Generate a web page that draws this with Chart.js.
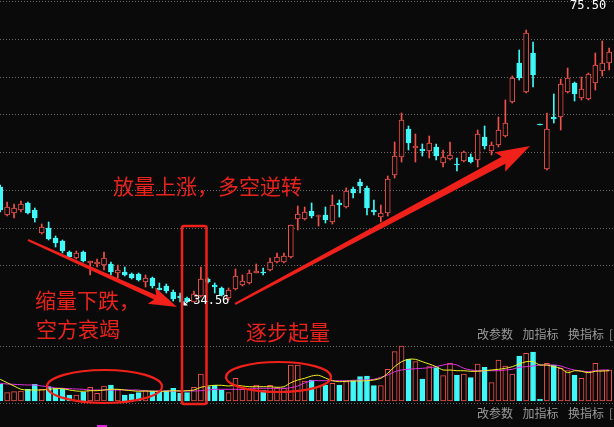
<!DOCTYPE html>
<html>
<head>
<meta charset="utf-8">
<script src="https://cdn.jsdelivr.net/npm/chart.js@4.4.1/dist/chart.umd.min.js"></script>
<style>
  html, body { margin: 0; padding: 0; background: #0a0a0a; }
  #wrap { position: relative; width: 614px; height: 427px; }
</style>
</head>
<body>
<div id="wrap"><canvas id="kline"></canvas></div>
<script>
// daily bars, oldest first
const opens = [51.96,47.76,48.06,48.51,49.56,48.51,45.06,45.81,44.31,43.86,
  42.21,41.31,42.21,40.56,40.41,40.26,40.41,39.06,39.21,38.91,
  38.91,37.71,38.31,36.81,37.11,36.21,35.61,35.31,34.71,35.61,
  38.16,37.26,36.81,35.31,36.66,37.26,37.56,39.06,39.21,39.51,
  40.71,40.71,41.46,47.16,47.16,48.36,47.54,47.76,46.71,49.56,
  48.96,51.66,52.71,51.81,48.51,47.46,48.06,53.76,56.46,60.66,
  57.81,57.66,57.36,57.96,55.56,56.16,55.41,55.86,56.46,56.01,
  59.46,57.36,58.26,59.61,64.71,70.56,66.21,72.06,61.41,54.66,
  62.46,62.46,66.21,67.56,65.31,65.16,67.56,69.36,70.56];
const closes = [48.51,48.96,48.81,49.41,48.06,47.31,45.96,44.16,43.56,42.36,
  41.46,42.06,40.86,40.86,40.71,41.31,39.21,39.51,38.76,38.31,
  38.01,38.31,37.11,36.51,36.36,35.16,35.31,34.71,35.91,38.16,
  37.71,36.96,35.76,36.51,38.61,37.86,39.06,39.36,39.06,40.71,
  41.46,41.61,46.26,47.91,48.21,47.61,47.69,47.01,49.26,49.26,
  51.36,51.06,52.11,48.81,48.21,48.06,53.16,56.61,62.01,58.56,
  58.11,57.36,58.56,56.61,56.46,56.76,55.26,57.21,55.71,59.91,
  58.11,58.26,60.51,61.56,68.31,68.31,75.06,68.76,61.26,60.66,
  62.16,67.41,68.31,65.91,66.66,68.91,70.26,70.56,72.21];
const highs = [52.26,49.71,49.41,49.86,49.71,48.81,46.41,46.71,44.61,44.01,
  42.36,42.36,42.36,40.86,41.16,42.21,40.71,40.26,39.96,39.06,
  39.06,38.76,38.46,37.56,37.41,36.51,36.06,35.46,36.36,39.96,
  38.31,37.56,36.96,36.81,39.66,38.76,39.51,40.41,39.81,41.31,
  42.06,42.06,46.26,49.11,48.96,49.56,47.76,48.96,50.76,50.01,
  51.81,51.96,53.16,52.11,50.01,49.26,53.61,58.71,63.06,61.11,
  59.91,58.41,59.61,58.41,57.51,58.71,56.31,57.36,56.91,60.51,
  61.11,58.71,62.46,65.01,68.61,72.51,75.50,73.71,61.41,63.06,
  65.91,68.16,69.81,67.71,68.46,69.06,72.06,73.86,72.81];
const lows = [48.21,47.61,47.31,48.21,47.91,46.71,44.91,44.01,42.96,42.06,
  41.31,41.16,40.71,38.76,39.96,39.51,38.76,38.31,38.61,38.16,
  37.86,36.96,36.81,36.51,36.06,34.86,34.71,34.56,34.71,35.46,
  37.56,36.06,35.61,35.01,36.51,37.11,37.41,39.06,38.76,39.36,
  40.56,40.56,41.31,45.51,47.01,47.31,46.11,46.56,46.41,47.46,
  48.81,50.31,51.06,47.76,47.76,46.71,47.61,53.31,55.71,57.51,
  55.71,56.61,56.31,56.01,54.96,56.01,54.36,55.71,55.56,54.96,
  57.66,56.76,57.96,59.46,64.56,68.01,66.06,66.96,61.26,54.51,
  61.56,60.51,66.06,64.86,65.01,65.01,66.51,68.61,69.51];

// volume (万手) and its colour (1 = up / red hollow, 0 = down / cyan)
const volumes = [16.7,8.3,9.3,10,11.7,16.7,11.7,14.3,12.7,11.7,
  6,6,8.7,13.7,7.7,15,16,11.7,6,7,
  8.3,10.3,10,9.3,10.3,12.7,7.7,8.3,13.7,27,
  14.3,15.7,11,8.3,22.7,12,12,16,11,15.7,
  12.7,12.7,36,36,20,21,14.3,16,17.7,16,
  19.3,20,24.3,25,15.3,15.3,31.7,49.3,55,41.7,
  39.3,22,34.3,33.3,25.3,37.7,26,27,23.3,37,
  33.7,18.3,41,35,27,45,47.7,49,2,37.7,
  36,32.7,30.3,26,22.7,29.3,37.7,30.3,31];
const volUp = [0,1,1,1,0,0,1,0,0,0, 0,1,0,1,1,1,0,1,0,0,
  0,1,0,0,0,0,0,0,1,1, 0,0,0,1,1,1,1,1,0,1,
  1,1,1,1,1,0,1,0,1,0, 1,0,0,0,0,1,1,1,1,0,
  1,0,1,0,1,1,0,1,0,1, 0,1,1,1,1,0,1,0,0,1,
  0,1,1,0,1,1,1,1,1];
const volMa5 = [21.7,18.3,15.0,11.7,11.0,11.0,11.0,11.7,12.3,12.3,
  11.0,10.0,9.7,10.3,10.3,11.0,11.7,11.7,11.0,10.3,
  9.7,10.0,9.7,9.7,9.7,10.3,10.0,10.3,11.0,13.7,
  15.0,15.7,15.7,15.0,15.7,15.0,14.3,14.3,14.3,14.3,
  13.7,14.3,18.3,21.0,22.7,25.0,25.7,23.0,20.3,19.3,
  19.7,20.0,20.0,20.3,21.0,22.7,27.7,34.3,39.3,41.7,
  41.7,39.3,37.0,34.3,31.0,31.0,30.3,30.3,29.7,29.7,
  30.3,31.0,31.7,32.7,34.3,37.0,39.3,39.3,36.0,36.0,
  34.3,32.7,28.3,30.3,29.7,28.3,29.7,30.0,30.3];
const volMa10 = [17.7,17.0,16.7,16.3,16.0,16.0,15.0,14.3,13.0,12.7,
  12.3,12.0,11.7,11.0,11.0,11.0,11.0,11.0,11.0,11.0,
  11.0,10.0,10.0,10.0,10.0,10.0,10.0,10.0,10.0,10.3,
  11.0,11.7,11.7,11.7,11.7,11.7,12.7,12.7,12.7,12.7,
  12.7,12.7,13.3,15.0,18.0,20.3,20.3,20.3,20.3,20.3,
  20.3,20.7,21.0,21.0,21.7,23.7,26.0,29.3,31.0,31.7,
  32.3,32.7,33.3,34.3,36.0,37.0,36.0,32.7,31.0,30.3,
  30.3,30.3,30.3,31.0,31.7,33.7,34.3,35.0,36.0,36.0,
  36.0,35.0,32.7,31.0,30.0,29.3,30.3,31.0,31.0];

const priceGrid = [79.86, 74.20, 68.53, 62.87, 57.21, 51.55, 45.88, 40.22];
const volumeGrid = [55, -2];
const lowLabel = '34.56';
const highLabel = '75.50';
const menuLabels = ['改参数', '加指标', '换指标'];

const RED = '#f0504a';
const CYAN = '#40f8f8';
const BG = '#0a0a0a';
const MARK = '#f0201a';

const idx = opens.map((_, i) => i);
const isUp = i => closes[i] >= opens[i];

function arrow(ctx, x0, y0, x1, y1, w0, w1, headLen, headW) {
  const len = Math.hypot(x1 - x0, y1 - y0);
  const ux = (x1 - x0) / len, uy = (y1 - y0) / len;
  const nx = -uy, ny = ux;
  const bx = x1 - ux * headLen, by = y1 - uy * headLen;
  ctx.beginPath();
  ctx.moveTo(x0 + nx * w0 / 2, y0 + ny * w0 / 2);
  ctx.lineTo(bx + nx * w1 / 2, by + ny * w1 / 2);
  ctx.lineTo(bx - ux * 4 + nx * headW, by - uy * 4 + ny * headW);
  ctx.lineTo(x1, y1);
  ctx.lineTo(bx - ux * 4 - nx * headW, by - uy * 4 - ny * headW);
  ctx.lineTo(bx - nx * w1 / 2, by - ny * w1 / 2);
  ctx.lineTo(x0 - nx * w0 / 2, y0 - ny * w0 / 2);
  ctx.closePath();
  ctx.fill();
}

const dottedGrid = {
  id: 'dottedGrid',
  beforeDatasetsDraw(chart) {
    const { ctx, scales } = chart;
    const rows = priceGrid.map(p => scales.y.getPixelForValue(p))
      .concat(volumeGrid.map(v => scales.yv.getPixelForValue(v)));
    ctx.save();
    ctx.strokeStyle = '#6a6a6a';
    ctx.lineWidth = 1;
    ctx.setLineDash([1, 2]);
    rows.forEach(py => {
      const yy = Math.round(py) + 0.5;
      ctx.beginPath();
      ctx.moveTo(0, yy);
      ctx.lineTo(chart.width, yy);
      ctx.stroke();
    });
    ctx.restore();
  }
};

const notes = {
  id: 'notes',
  afterDatasetsDraw(chart) {
    const { ctx } = chart;
    ctx.save();

    // arrows
    ctx.fillStyle = MARK;
    arrow(ctx, 28, 240, 177, 307, 2, 5, 24, 9);
    arrow(ctx, 235, 304, 530, 146, 2, 8, 30, 11);

    // box round the breakout bars
    ctx.strokeStyle = MARK;
    ctx.lineWidth = 2.5;
    ctx.beginPath();
    ctx.roundRect(182, 226, 24.5, 178, 2);
    ctx.stroke();

    // volume ellipses
    ctx.lineWidth = 2.2;
    ctx.beginPath();
    ctx.ellipse(104.5, 386.5, 57.5, 16.5, 0, 0, Math.PI * 2);
    ctx.stroke();
    ctx.beginPath();
    ctx.ellipse(278.5, 377, 52.5, 15, 0, 0, Math.PI * 2);
    ctx.stroke();

    // captions
    ctx.fillStyle = '#e8231c';
    ctx.font = '21px "Noto Sans CJK SC"';
    ctx.textBaseline = 'middle';
    ctx.textAlign = 'left';
    ctx.fillText('放量上涨，多空逆转', 113, 186);
    ctx.fillText('缩量下跌，', 35, 300);
    ctx.fillText('空方衰竭', 36, 329);
    ctx.fillText('逐步起量', 246, 332);

    // low / high price labels
    ctx.fillStyle = '#ffffff';
    ctx.strokeStyle = '#ffffff';
    ctx.lineWidth = 1;
    ctx.beginPath();
    ctx.moveTo(190, 299);
    ctx.lineTo(184.5, 304.5);
    ctx.stroke();
    ctx.beginPath();
    ctx.moveTo(183.5, 305.5);
    ctx.lineTo(183.5, 301);
    ctx.lineTo(188, 305.5);
    ctx.closePath();
    ctx.fill();
    ctx.font = '12px "DejaVu Sans Mono"';
    ctx.fillText('-' + lowLabel, 186, 301);
    ctx.fillText(highLabel, 570, 6);

    // panel menu
    ctx.fillStyle = '#9a9a9a';
    ctx.font = '12px "Noto Sans CJK SC"';
    [334, 413].forEach(yy => {
      menuLabels.forEach((t, k) => ctx.fillText(t, 477 + k * 45.5, yy));
      ctx.fillText('[', 609, yy);
    });

    ctx.fillStyle = '#e020e0';
    ctx.fillRect(97, 425, 10, 2);
    ctx.restore();
  }
};

const candleColor = c => isUp(c.dataIndex) ? RED : CYAN;

new Chart(document.getElementById('kline'), {
  type: 'bar',
  data: {
    datasets: [
      {
        type: 'line',
        yAxisID: 'yv',
        data: idx.map(i => ({ x: i, y: volMa5[i] })),
        borderColor: '#f0f020',
        borderWidth: 1,
        pointRadius: 0,
        tension: 0.3,
        order: 0
      },
      {
        type: 'line',
        yAxisID: 'yv',
        data: idx.map(i => ({ x: i, y: volMa10[i] })),
        borderColor: '#e030e0',
        borderWidth: 1,
        pointRadius: 0,
        tension: 0.3,
        order: 1
      },
      {
        yAxisID: 'yv',
        data: idx.map(i => ({ x: i, y: [0, volumes[i]] })),
        backgroundColor: c => volUp[c.dataIndex] ? BG : CYAN,
        borderColor: c => volUp[c.dataIndex] ? RED : CYAN,
        borderWidth: 1,
        borderSkipped: false,
        barThickness: 5,
        grouped: false,
        order: 2
      },
      {
        yAxisID: 'y',
        data: idx.map(i => ({ x: i, y: [opens[i], closes[i]] })),
        backgroundColor: c => isUp(c.dataIndex) ? BG : CYAN,
        borderColor: candleColor,
        borderWidth: 1,
        borderSkipped: false,
        barThickness: 5,
        minBarLength: 1,
        grouped: false,
        order: 3
      },
      {
        yAxisID: 'y',
        data: idx.map(i => ({ x: i, y: [lows[i], highs[i]] })),
        backgroundColor: candleColor,
        borderWidth: 0,
        barThickness: 1,
        grouped: false,
        order: 4
      }
    ]
  },
  options: {
    responsive: true,
    maintainAspectRatio: false,
    devicePixelRatio: 1,
    animation: false,
    layout: { padding: 0 },
    plugins: {
      legend: { display: false },
      tooltip: { enabled: false }
    },
    scales: {
      x: { type: 'linear', min: -0.029, max: 88.699, offset: false, display: false },
      y: { min: 15.96, max: 80.01, display: false },
      yv: { min: -26, max: 401, display: false }
    }
  },
  plugins: [dottedGrid, notes]
});
</script>
</body>
</html>
